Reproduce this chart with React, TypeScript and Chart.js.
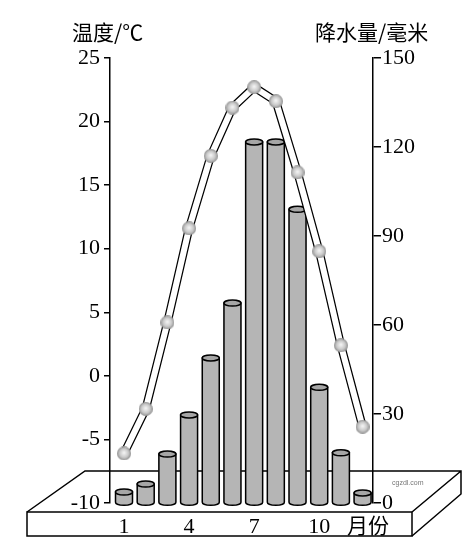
import React, { useEffect, useRef } from "react";
import { Chart, registerables } from "chart.js";

Chart.register(...registerables);

const months = [1, 2, 3, 4, 5, 6, 7, 8, 9, 10, 11, 12];
const temperature = [-6.1, -2.6, 4.2, 11.6, 17.3, 21.1, 22.7, 21.6, 16, 9.8, 2.4, -4];
const precipitation = [3.7, 6.4, 16.5, 29.7, 48.9, 67.4, 121.7, 121.7, 99, 39, 16.9, 3.4];
const monthTicks = [1, 4, 7, 10];
const leftTitle = "温度/℃";
const rightTitle = "降水量/毫米";
const monthTitle = "月份";
const watermark = "cgzdl.com";

const SERIF = '"Liberation Serif", serif';
const CJK = '"Noto Sans CJK SC", sans-serif';

function sphere(size: number) {
  const c = document.createElement("canvas");
  c.width = size;
  c.height = size;
  const g = c.getContext("2d")!;
  const r = size / 2;
  const grad = g.createRadialGradient(r, r * 0.9, 0.5, r, r, r);
  grad.addColorStop(0, "#f2f2f2");
  grad.addColorStop(0.6, "#c8c8c8");
  grad.addColorStop(1, "#8f8f8f");
  g.fillStyle = grad;
  g.beginPath();
  g.arc(r, r, r, 0, Math.PI * 2);
  g.fill();
  return c;
}

const decor = {
  id: "decor",
  beforeDraw(chart: any) {
    const { ctx, chartArea: a } = chart;
    const front = { l: a.left - 83, r: a.right + 39, t: a.bottom + 9, b: a.bottom + 33 };
    const backT = a.bottom - 32;
    const backL = a.left - 25;
    const backR = a.right + 88;
    const sideB = a.bottom - 9;
    ctx.save();
    ctx.fillStyle = "#ffffff";
    ctx.fillRect(0, 0, chart.width, chart.height);
    ctx.strokeStyle = "#000000";
    ctx.lineWidth = 1.5;
    ctx.lineJoin = "miter";
    ctx.beginPath();
    ctx.moveTo(front.l, front.t);
    ctx.lineTo(backL, backT);
    ctx.lineTo(backR, backT);
    ctx.lineTo(backR, sideB);
    ctx.lineTo(front.r, front.b);
    ctx.moveTo(backR, backT);
    ctx.lineTo(front.r, front.t);
    ctx.stroke();
    ctx.strokeRect(front.l, front.t, front.r - front.l, front.b - front.t);
    ctx.restore();
  },
  afterDatasetDraw(chart: any, args: any) {
    if (args.index !== 0) return;
    const { ctx } = chart;
    ctx.save();
    ctx.strokeStyle = "#000000";
    ctx.lineWidth = 1.5;
    for (const el of chart.getDatasetMeta(0).data) {
      const p = el.getProps(["x", "y", "base", "width"], true);
      const rx = p.width / 2;
      const ry = 3;
      ctx.fillStyle = "#b5b5b5";
      ctx.beginPath();
      ctx.moveTo(p.x - rx, p.y);
      ctx.lineTo(p.x - rx, p.base);
      ctx.ellipse(p.x, p.base, rx, ry, 0, Math.PI, 0, true);
      ctx.lineTo(p.x + rx, p.y);
      ctx.closePath();
      ctx.fill();
      ctx.stroke();
      ctx.fillStyle = "#a6a6a6";
      ctx.beginPath();
      ctx.ellipse(p.x, p.y, rx, ry, 0, 0, Math.PI * 2);
      ctx.fill();
      ctx.stroke();
    }
    ctx.restore();
  },
  afterDraw(chart: any) {
    const { ctx, chartArea: a } = chart;
    ctx.save();
    ctx.fillStyle = "#000000";
    ctx.textBaseline = "middle";
    ctx.font = `21px ${CJK}`;
    ctx.textAlign = "left";
    ctx.fillText(leftTitle, a.left - 38, 32);
    ctx.fillText(rightTitle, a.right - 58, 32);
    ctx.fillText(monthTitle, a.right - 26, a.bottom + 22);
    ctx.font = "7px Arial, sans-serif";
    ctx.fillStyle = "#777777";
    ctx.fillText(watermark, a.right + 19, a.bottom - 20);
    ctx.restore();
  },
};

export default function App() {
  const ref = useRef<HTMLCanvasElement>(null);
  useEffect(() => {
    const prevMargin = document.body.style.margin;
    document.body.style.margin = "0";
    const tempPoints = months.map((m, i) => ({ x: m, y: temperature[i] }));
    const chart = new Chart(ref.current!, {
      type: "bar",
      data: {
        datasets: [
          {
            type: "bar",
            data: months.map((m, i) => ({ x: m, y: precipitation[i] })),
            yAxisID: "yR",
            backgroundColor: "#b5b5b5",
            borderWidth: 0,
            barThickness: 17,
            order: 3,
          },
          {
            type: "line",
            data: tempPoints,
            yAxisID: "yL",
            borderColor: "#000000",
            borderWidth: 8.5,
            pointRadius: 0,
            tension: 0,
            order: 2,
          },
          {
            type: "line",
            data: tempPoints,
            yAxisID: "yL",
            borderColor: "#ffffff",
            borderWidth: 6,
            pointStyle: sphere(14),
            pointRadius: 7,
            tension: 0,
            order: 1,
          },
        ] as any,
      },
      options: {
        responsive: false,
        animation: false,
        devicePixelRatio: 1,
        layout: { padding: { top: 58, left: 0, right: 0, bottom: 0 } },
        plugins: { legend: { display: false }, tooltip: { enabled: false } },
        scales: {
          x: {
            type: "linear",
            offset: false,
            min: 0.354,
            max: 12.48,
            border: { display: false },
            grid: { display: false, drawTicks: false },
            afterBuildTicks: (s: any) => {
              s.ticks = monthTicks.map((value) => ({ value }));
            },
            afterFit: (s: any) => {
              s.height = 48;
            },
            ticks: {
              autoSkip: false,
              maxRotation: 0,
              padding: 11,
              color: "#000000",
              font: { family: SERIF, size: 22 },
              callback: (v: any) => String(v),
            },
          },
          yL: {
            type: "linear",
            position: "left",
            min: -10,
            max: 25,
            border: { display: true, color: "#000000", width: 1.5 },
            grid: { drawOnChartArea: false, color: "#000000", tickLength: 6, lineWidth: 1.5 },
            afterFit: (s: any) => {
              s.width = 110;
            },
            ticks: {
              stepSize: 5,
              padding: 4,
              color: "#000000",
              font: { family: SERIF, size: 22 },
            },
          },
          yR: {
            type: "linear",
            position: "right",
            min: 0,
            max: 150,
            border: { display: true, color: "#000000", width: 1.5 },
            grid: { drawOnChartArea: false, color: "#000000", tickLength: 8, lineWidth: 1.5 },
            afterFit: (s: any) => {
              s.width = 101;
            },
            ticks: {
              stepSize: 30,
              padding: 1,
              color: "#000000",
              font: { family: SERIF, size: 22 },
            },
          },
        },
      } as any,
      plugins: [decor],
    });
    return () => {
      chart.destroy();
      document.body.style.margin = prevMargin;
    };
  }, []);
  return <canvas ref={ref} width={474} height={551} style={{ display: "block" }} />;
}
